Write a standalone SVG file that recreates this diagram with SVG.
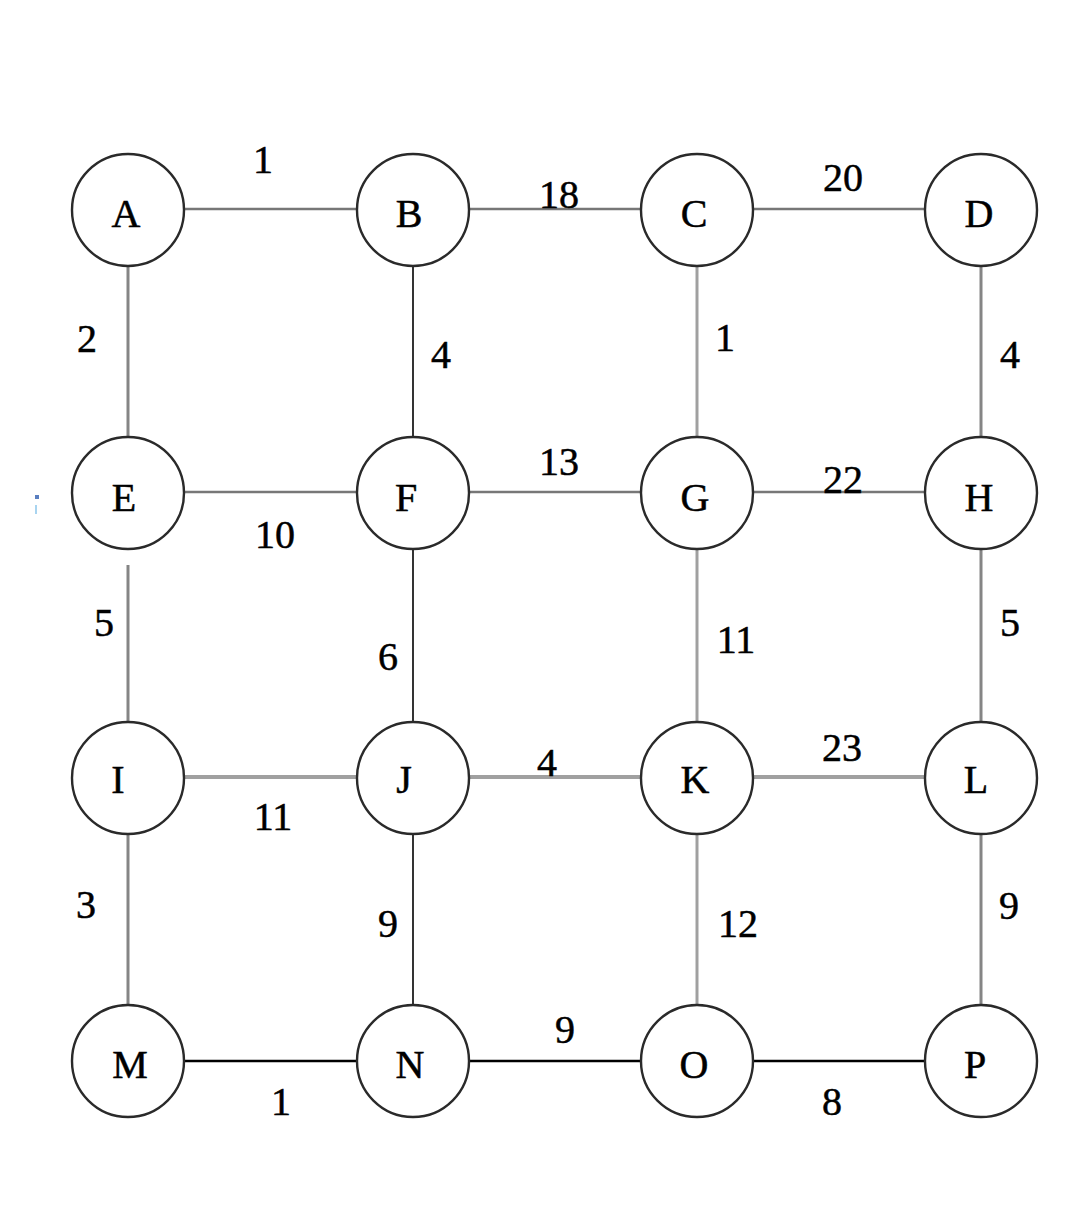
<svg xmlns="http://www.w3.org/2000/svg" width="1071" height="1215" viewBox="0 0 1071 1215">
<style>
.node circle{fill:#fff;stroke:#2a2a2a;stroke-width:2.4}
.node text,.lbl{font-family:"Liberation Serif","Times New Roman",serif;font-size:40px;fill:#000;stroke:#000;stroke-width:0.5;text-anchor:middle}
.g1{stroke:#777;stroke-width:2.5}
.g2{stroke:#858585;stroke-width:3}
.g3{stroke:#a0a0a0;stroke-width:3}
.g4{stroke:#a0a0a0;stroke-width:4}
.k1{stroke:#000;stroke-width:1.6}
.k2{stroke:#000;stroke-width:2.6}
</style>
<rect width="1071" height="1215" fill="#fff"/>
<g id="connectors">
<line class="g1" x1="184" y1="209" x2="357" y2="209"/>
<line class="g1" x1="469" y1="209" x2="641" y2="209"/>
<line class="g1" x1="753" y1="209" x2="925" y2="209"/>
<line class="g2" x1="128" y1="266" x2="128" y2="437"/>
<line class="k1" x1="413" y1="266" x2="413" y2="437"/>
<line class="g3" x1="697" y1="266" x2="697" y2="437"/>
<line class="g2" x1="981" y1="266" x2="981" y2="437"/>
<line class="g1" x1="184" y1="492" x2="357" y2="492"/>
<line class="g1" x1="469" y1="492" x2="641" y2="492"/>
<line class="g1" x1="753" y1="492" x2="925" y2="492"/>
<line class="g2" x1="128" y1="565" x2="128" y2="722"/>
<line class="k1" x1="413" y1="549" x2="413" y2="722"/>
<line class="g3" x1="697" y1="549" x2="697" y2="722"/>
<line class="g2" x1="981" y1="549" x2="981" y2="722"/>
<line class="g4" x1="184" y1="777" x2="357" y2="777"/>
<line class="g4" x1="469" y1="777" x2="641" y2="777"/>
<line class="g4" x1="753" y1="777" x2="925" y2="777"/>
<line class="g2" x1="128" y1="834" x2="128" y2="1005"/>
<line class="k1" x1="413" y1="834" x2="413" y2="1005"/>
<line class="g3" x1="697" y1="834" x2="697" y2="1005"/>
<line class="g2" x1="981" y1="834" x2="981" y2="1005"/>
<line class="k2" x1="184" y1="1061" x2="357" y2="1061"/>
<line class="k2" x1="469" y1="1061" x2="641" y2="1061"/>
<line class="k2" x1="753" y1="1061" x2="925" y2="1061"/>
</g>
<g id="edge-labels">
<text class="lbl" x="263" y="173">1</text>
<text class="lbl" x="559" y="208">18</text>
<text class="lbl" x="843" y="191">20</text>
<text class="lbl" x="87" y="352">2</text>
<text class="lbl" x="441" y="368">4</text>
<text class="lbl" x="725" y="351">1</text>
<text class="lbl" x="1010" y="368">4</text>
<text class="lbl" x="559" y="475">13</text>
<text class="lbl" x="275" y="548">10</text>
<text class="lbl" x="843" y="493">22</text>
<text class="lbl" x="104" y="636">5</text>
<text class="lbl" x="388" y="670">6</text>
<text class="lbl" x="736" y="653">11</text>
<text class="lbl" x="1010" y="636">5</text>
<text class="lbl" x="547" y="776">4</text>
<text class="lbl" x="273" y="830">11</text>
<text class="lbl" x="842" y="761">23</text>
<text class="lbl" x="86" y="918">3</text>
<text class="lbl" x="388" y="937">9</text>
<text class="lbl" x="738" y="937">12</text>
<text class="lbl" x="1009" y="919">9</text>
<text class="lbl" x="565" y="1043">9</text>
<text class="lbl" x="281" y="1115">1</text>
<text class="lbl" x="832" y="1115">8</text>
</g>
<g id="mark">
<rect x="35" y="495" width="4" height="4" fill="#5a7fc0"/>
<rect x="35" y="505" width="2" height="9" fill="#a8d4f0"/>
</g>
<g id="A" class="node"><circle cx="128" cy="210" r="56"/><text x="126" y="227">A</text></g>
<g id="B" class="node"><circle cx="413" cy="210" r="56"/><text x="409" y="227">B</text></g>
<g id="C" class="node"><circle cx="697" cy="210" r="56"/><text x="694" y="227">C</text></g>
<g id="D" class="node"><circle cx="981" cy="210" r="56"/><text x="979" y="227">D</text></g>
<g id="E" class="node"><circle cx="128" cy="493" r="56"/><text x="124" y="511">E</text></g>
<g id="F" class="node"><circle cx="413" cy="493" r="56"/><text x="406" y="511">F</text></g>
<g id="G" class="node"><circle cx="697" cy="493" r="56"/><text x="695" y="511">G</text></g>
<g id="H" class="node"><circle cx="981" cy="493" r="56"/><text x="979" y="511">H</text></g>
<g id="I" class="node"><circle cx="128" cy="778" r="56"/><text x="118" y="793">I</text></g>
<g id="J" class="node"><circle cx="413" cy="778" r="56"/><text x="404" y="793">J</text></g>
<g id="K" class="node"><circle cx="697" cy="778" r="56"/><text x="695" y="793">K</text></g>
<g id="L" class="node"><circle cx="981" cy="778" r="56"/><text x="976" y="793">L</text></g>
<g id="M" class="node"><circle cx="128" cy="1061" r="56"/><text x="130" y="1078">M</text></g>
<g id="N" class="node"><circle cx="413" cy="1061" r="56"/><text x="410" y="1078">N</text></g>
<g id="O" class="node"><circle cx="697" cy="1061" r="56"/><text x="694" y="1078">O</text></g>
<g id="P" class="node"><circle cx="981" cy="1061" r="56"/><text x="975" y="1078">P</text></g>
</svg>
